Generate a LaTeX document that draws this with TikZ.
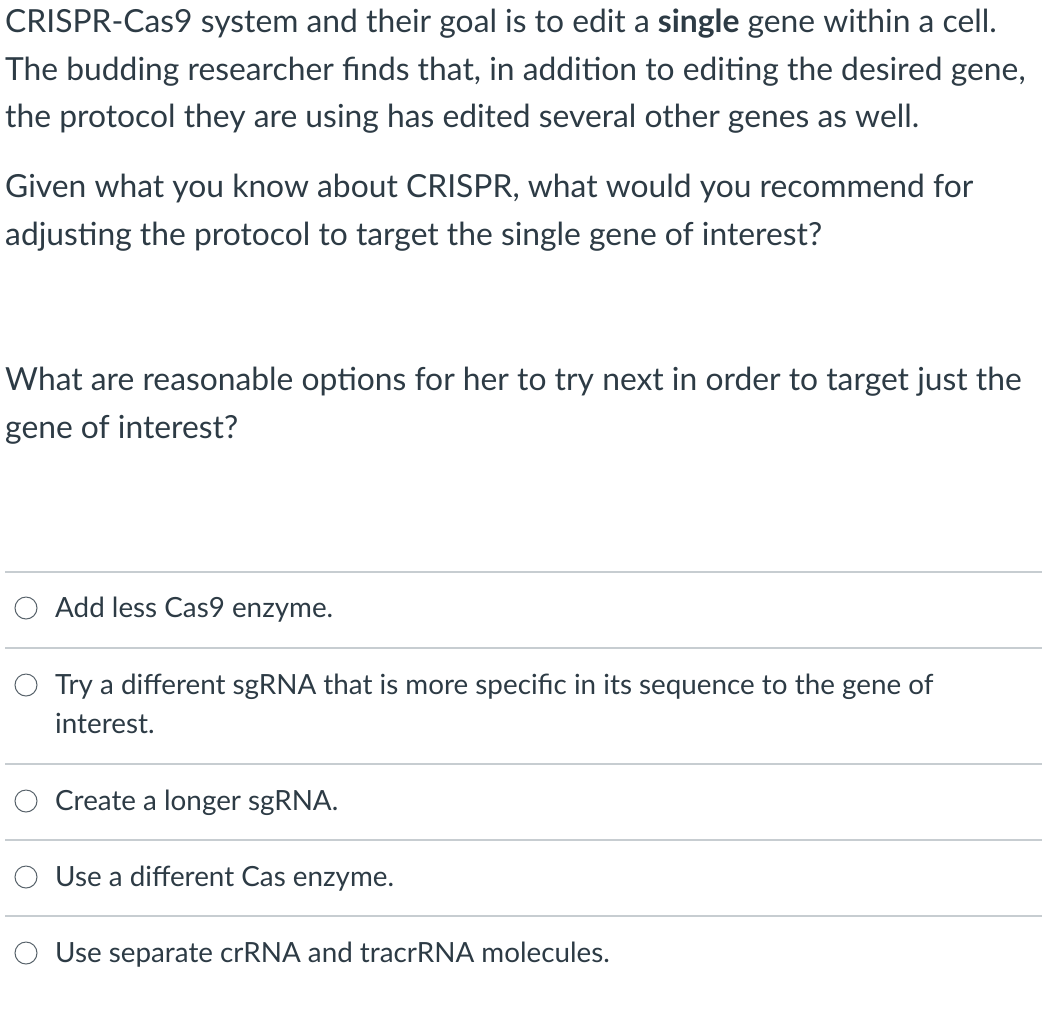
\documentclass[tikz,border=0pt]{standalone}
\usepackage{fontspec}
\setmainfont{Lato}
\definecolor{txt}{HTML}{2D3B45}
\definecolor{rule}{HTML}{C7CDD1}
\begin{document}
\begin{tikzpicture}[x=1pt,y=-1pt,
  q/.style={anchor=base west,inner sep=0pt,text=txt,font=\fontsize{31.8}{36}\selectfont},
  o/.style={anchor=base west,inner sep=0pt,text=txt,font=\fontsize{27.8}{32}\selectfont},
  sep/.style={draw=rule,line width=1.2pt},
  radio/.style={draw=txt!80,line width=1pt}]
\useasboundingbox[fill=white] (0,0) rectangle (1062,1010);
\node[q] (l1) at (5,32) {CRISPR-Cas9 system and their goal is to edit a \textbf{single} gene within a cell.};
\node[q] (l2) at (5,80) {The budding researcher finds that, in addition to editing the desired gene,};
\node[q] (l3) at (5,127) {the protocol they are using has edited several other genes as well.};
\node[q] (l4) at (5,197) {Given what you know about CRISPR, what would you recommend for};
\node[q] (l5) at (5,245) {adjusting the protocol to target the single gene of interest?};
\node[q] (l6) at (5,390) {What are reasonable options for her to try next in order to target just the};
\node[q] (l7) at (5,438) {gene of interest?};
\foreach \y/\n in {572/a,648/b,764/c,840/d,916/e}{
  \coordinate (s\n1) at (5,\y); \coordinate (s\n2) at (1042,\y);
  \draw[sep] (s\n1) -- (s\n2);}
\foreach \y/\n in {608/a,685/b,801/c,877/d,953/e}{
  \coordinate (r\n) at (26,\y); \draw[radio] (r\n) circle (11);}
\node[o] (oa) at (55,617) {Add less Cas9 enzyme.};
\node[o] (ob) at (55,694) {Try a different sgRNA that is more specific in its sequence to the gene of};
\node[o] (ob2) at (55,733) {interest.};
\node[o] (oc) at (55,810) {Create a longer sgRNA.};
\node[o] (od) at (55,886) {Use a different Cas enzyme.};
\node[o] (oe) at (55,962) {Use separate crRNA and tracrRNA molecules.};
\end{tikzpicture}
\end{document}
